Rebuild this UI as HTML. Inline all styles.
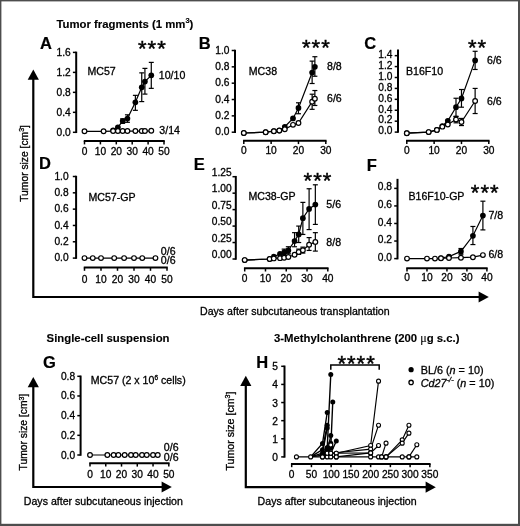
<!DOCTYPE html>
<html lang="en"><head><meta charset="utf-8"><title>Figure</title>
<style>html,body{margin:0;padding:0;background:#fff}svg{display:block}text{font-family:"Liberation Sans",Arial,Helvetica,sans-serif;font-size:10.6px;fill:#000;stroke:#000;stroke-width:0.3px}</style></head><body>
<svg width="520" height="526" viewBox="0 0 520 526" stroke="#000" fill="none">
<rect x="0" y="0" width="520" height="526" fill="#fff" stroke="none"/>
<rect x="0" y="0" width="1.4" height="526" fill="#4d4d4d" stroke="none"/>
<rect x="0" y="0" width="520" height="1.4" fill="#4d4d4d" stroke="none"/>
<rect x="518" y="0" width="2" height="526" fill="#4d4d4d" stroke="none"/>
<rect x="0" y="523.8" width="520" height="2.2" fill="#4d4d4d" stroke="none"/>
<text x="56.4" y="27.5" font-weight="bold" style="font-size:11.35px;stroke-width:0.12px">Tumor fragments (1 mm<tspan style="font-size:7.5px" dy="-4.2">3</tspan><tspan dy="4.2">)</tspan></text>
<text x="46.6" y="341.8" font-weight="bold" style="font-size:11.35px;stroke-width:0.12px">Single-cell suspension</text>
<text x="274" y="341.5" font-weight="bold" style="font-size:11.35px;stroke-width:0.12px">3-Methylcholanthrene (200 <tspan font-family="'Liberation Serif',serif" font-weight="normal" style="font-size:12px">μ</tspan>g s.c.)</text>
<path d="M33.3 78.7 V297 H479.6" fill="none" stroke-width="2.2" stroke-linejoin="miter"/>
<path d="M33.3 69.5 L27.7 79.7 L38.9 79.7 Z" fill="#000" stroke="none"/>
<path d="M488.8 297 L478.6 291.4 L478.6 302.6 Z" fill="#000" stroke="none"/>
<path d="M33.3 386.2 V487 H162.6" fill="none" stroke-width="2.2" stroke-linejoin="miter"/>
<path d="M33.3 377 L27.7 387.2 L38.9 387.2 Z" fill="#000" stroke="none"/>
<path d="M171.8 487 L161.6 481.4 L161.6 492.6 Z" fill="#000" stroke="none"/>
<path d="M245.8 385 V487.2 H426.6" fill="none" stroke-width="2.2" stroke-linejoin="miter"/>
<path d="M245.8 375.8 L240.2 386 L251.4 386 Z" fill="#000" stroke="none"/>
<path d="M435.8 487.2 L425.6 481.6 L425.6 492.8 Z" fill="#000" stroke="none"/>
<text transform="translate(27.5 201.8) rotate(-90)" style="font-size:10.3px">Tumor size [cm<tspan style="font-size:7px" dy="-3.8">3</tspan><tspan dy="3.8">]</tspan></text>
<text transform="translate(27.3 470.5) rotate(-90)" style="font-size:10.3px">Tumor size [cm<tspan style="font-size:7px" dy="-3.8">3</tspan><tspan dy="3.8">]</tspan></text>
<text transform="translate(233.8 470.5) rotate(-90)" style="font-size:10.6px">Tumor size [cm<tspan style="font-size:7px" dy="-3.8">3</tspan><tspan dy="3.8">]</tspan></text>
<text x="200" y="315">Days after subcutaneous transplantation</text>
<text x="23.8" y="505.3">Days after subcutaneous injection</text>
<text x="257.6" y="505.2">Days after subcutaneous injection</text>
<text x="40" y="49.4" font-weight="bold" style="font-size:16.5px;stroke-width:0.2px">A</text>
<text x="198.7" y="49" font-weight="bold" style="font-size:16.5px;stroke-width:0.2px">B</text>
<text x="364.2" y="49.3" font-weight="bold" style="font-size:16.5px;stroke-width:0.2px">C</text>
<text x="39" y="169.1" font-weight="bold" style="font-size:16.5px;stroke-width:0.2px">D</text>
<text x="193.8" y="170.2" font-weight="bold" style="font-size:16.5px;stroke-width:0.2px">E</text>
<text x="366.8" y="170.7" font-weight="bold" style="font-size:16.5px;stroke-width:0.2px">F</text>
<text x="43" y="367.5" font-weight="bold" style="font-size:16.5px;stroke-width:0.2px">G</text>
<text x="256.2" y="367.5" font-weight="bold" style="font-size:16.5px;stroke-width:0.2px">H</text>
<line x1="76.2" y1="51.65" x2="76.2" y2="133.05" stroke-width="2"/>
<line x1="72.9" y1="132.3" x2="76.2" y2="132.3" stroke-width="1.5"/>
<line x1="72.9" y1="112.33" x2="76.2" y2="112.33" stroke-width="1.5"/>
<line x1="72.9" y1="92.35" x2="76.2" y2="92.35" stroke-width="1.5"/>
<line x1="72.9" y1="72.38" x2="76.2" y2="72.38" stroke-width="1.5"/>
<line x1="72.9" y1="52.4" x2="76.2" y2="52.4" stroke-width="1.5"/>
<text x="70.7" y="135.8" text-anchor="end" style="font-size:10.2px">0.0</text>
<text x="70.7" y="115.83" text-anchor="end" style="font-size:10.2px">0.4</text>
<text x="70.7" y="95.85" text-anchor="end" style="font-size:10.2px">0.8</text>
<text x="70.7" y="75.88" text-anchor="end" style="font-size:10.2px">1.2</text>
<text x="70.7" y="55.9" text-anchor="end" style="font-size:10.2px">1.6</text>
<line x1="83.75" y1="141.1" x2="164.75" y2="141.1" stroke-width="2"/>
<line x1="84.5" y1="141.1" x2="84.5" y2="144.4" stroke-width="1.5"/>
<line x1="100.4" y1="141.1" x2="100.4" y2="144.4" stroke-width="1.5"/>
<line x1="116.3" y1="141.1" x2="116.3" y2="144.4" stroke-width="1.5"/>
<line x1="132.2" y1="141.1" x2="132.2" y2="144.4" stroke-width="1.5"/>
<line x1="148.1" y1="141.1" x2="148.1" y2="144.4" stroke-width="1.5"/>
<line x1="164" y1="141.1" x2="164" y2="144.4" stroke-width="1.5"/>
<text x="84.5" y="154.8" text-anchor="middle" style="font-size:10.2px">0</text>
<text x="100.4" y="154.8" text-anchor="middle" style="font-size:10.2px">10</text>
<text x="116.3" y="154.8" text-anchor="middle" style="font-size:10.2px">20</text>
<text x="132.2" y="154.8" text-anchor="middle" style="font-size:10.2px">30</text>
<text x="148.1" y="154.8" text-anchor="middle" style="font-size:10.2px">40</text>
<text x="164" y="154.8" text-anchor="middle" style="font-size:10.2px">50</text>
<line x1="122.66" y1="118.82" x2="122.66" y2="123.31" stroke-width="1.2"/>
<line x1="120.16" y1="118.82" x2="125.16" y2="118.82" stroke-width="1.2"/>
<line x1="120.16" y1="123.31" x2="125.16" y2="123.31" stroke-width="1.2"/>
<line x1="127.43" y1="114.82" x2="127.43" y2="122.31" stroke-width="1.2"/>
<line x1="124.93" y1="114.82" x2="129.93" y2="114.82" stroke-width="1.2"/>
<line x1="124.93" y1="122.31" x2="129.93" y2="122.31" stroke-width="1.2"/>
<line x1="135.38" y1="95.35" x2="135.38" y2="110.33" stroke-width="1.2"/>
<line x1="132.88" y1="95.35" x2="137.88" y2="95.35" stroke-width="1.2"/>
<line x1="132.88" y1="110.33" x2="137.88" y2="110.33" stroke-width="1.2"/>
<line x1="141.74" y1="72.87" x2="141.74" y2="101.59" stroke-width="1.2"/>
<line x1="139.24" y1="72.87" x2="144.24" y2="72.87" stroke-width="1.2"/>
<line x1="139.24" y1="101.59" x2="144.24" y2="101.59" stroke-width="1.2"/>
<line x1="144.92" y1="68.38" x2="144.92" y2="94.1" stroke-width="1.2"/>
<line x1="142.42" y1="68.38" x2="147.42" y2="68.38" stroke-width="1.2"/>
<line x1="142.42" y1="94.1" x2="147.42" y2="94.1" stroke-width="1.2"/>
<line x1="151.28" y1="62.39" x2="151.28" y2="88.36" stroke-width="1.2"/>
<line x1="148.78" y1="62.39" x2="153.78" y2="62.39" stroke-width="1.2"/>
<line x1="148.78" y1="88.36" x2="153.78" y2="88.36" stroke-width="1.2"/>
<polyline points="113.12,130.3 117.89,127.31 122.66,121.06 127.43,118.57 135.38,102.34 141.74,87.36 144.92,81.61 151.28,75.37" fill="none" stroke-width="1.2"/>
<circle cx="113.12" cy="130.3" r="2.85" fill="#000" stroke="none"/>
<circle cx="117.89" cy="127.31" r="2.85" fill="#000" stroke="none"/>
<circle cx="122.66" cy="121.06" r="2.85" fill="#000" stroke="none"/>
<circle cx="127.43" cy="118.57" r="2.85" fill="#000" stroke="none"/>
<circle cx="135.38" cy="102.34" r="2.85" fill="#000" stroke="none"/>
<circle cx="141.74" cy="87.36" r="2.85" fill="#000" stroke="none"/>
<circle cx="144.92" cy="81.61" r="2.85" fill="#000" stroke="none"/>
<circle cx="151.28" cy="75.37" r="2.85" fill="#000" stroke="none"/>
<polyline points="84.5,131.3 103.58,131.3 113.12,131.05 117.89,131.05 122.66,131.05 127.43,131.05 135.38,131.05 141.74,131.05 144.92,131.05 151.28,130.8" fill="none" stroke-width="1.2"/>
<circle cx="84.5" cy="131.3" r="2.35" fill="#fff" stroke-width="1.2"/>
<circle cx="103.58" cy="131.3" r="2.35" fill="#fff" stroke-width="1.2"/>
<circle cx="113.12" cy="131.05" r="2.35" fill="#fff" stroke-width="1.2"/>
<circle cx="117.89" cy="131.05" r="2.35" fill="#fff" stroke-width="1.2"/>
<circle cx="122.66" cy="131.05" r="2.35" fill="#fff" stroke-width="1.2"/>
<circle cx="127.43" cy="131.05" r="2.35" fill="#fff" stroke-width="1.2"/>
<circle cx="135.38" cy="131.05" r="2.35" fill="#fff" stroke-width="1.2"/>
<circle cx="141.74" cy="131.05" r="2.35" fill="#fff" stroke-width="1.2"/>
<circle cx="144.92" cy="131.05" r="2.35" fill="#fff" stroke-width="1.2"/>
<circle cx="151.28" cy="130.8" r="2.35" fill="#fff" stroke-width="1.2"/>
<text x="87.5" y="75">MC57</text>
<text x="158.8" y="78.8">10/10</text>
<text x="159.3" y="134.3">3/14</text>
<text x="138" y="55.5" style="font-size:22px;stroke-width:0.45px;letter-spacing:1.05px">***</text>
<line x1="235" y1="49.75" x2="235" y2="132.95" stroke-width="2"/>
<line x1="231.7" y1="132.2" x2="235" y2="132.2" stroke-width="1.5"/>
<line x1="231.7" y1="115.86" x2="235" y2="115.86" stroke-width="1.5"/>
<line x1="231.7" y1="99.52" x2="235" y2="99.52" stroke-width="1.5"/>
<line x1="231.7" y1="83.18" x2="235" y2="83.18" stroke-width="1.5"/>
<line x1="231.7" y1="66.84" x2="235" y2="66.84" stroke-width="1.5"/>
<line x1="231.7" y1="50.5" x2="235" y2="50.5" stroke-width="1.5"/>
<text x="229.5" y="135.4" text-anchor="end" style="font-size:10.2px">0.0</text>
<text x="229.5" y="119.06" text-anchor="end" style="font-size:10.2px">0.2</text>
<text x="229.5" y="102.72" text-anchor="end" style="font-size:10.2px">0.4</text>
<text x="229.5" y="86.38" text-anchor="end" style="font-size:10.2px">0.6</text>
<text x="229.5" y="70.04" text-anchor="end" style="font-size:10.2px">0.8</text>
<text x="229.5" y="53.7" text-anchor="end" style="font-size:10.2px">1.0</text>
<line x1="243.05" y1="140.8" x2="326.55" y2="140.8" stroke-width="2"/>
<line x1="243.8" y1="140.8" x2="243.8" y2="144.1" stroke-width="1.5"/>
<line x1="271.13" y1="140.8" x2="271.13" y2="144.1" stroke-width="1.5"/>
<line x1="298.47" y1="140.8" x2="298.47" y2="144.1" stroke-width="1.5"/>
<line x1="325.8" y1="140.8" x2="325.8" y2="144.1" stroke-width="1.5"/>
<text x="243.8" y="154.2" text-anchor="middle" style="font-size:10.2px">0</text>
<text x="271.13" y="154.2" text-anchor="middle" style="font-size:10.2px">10</text>
<text x="298.47" y="154.2" text-anchor="middle" style="font-size:10.2px">20</text>
<text x="325.8" y="154.2" text-anchor="middle" style="font-size:10.2px">30</text>
<line x1="298.47" y1="102.79" x2="298.47" y2="113.74" stroke-width="1.2"/>
<line x1="295.97" y1="102.79" x2="300.97" y2="102.79" stroke-width="1.2"/>
<line x1="295.97" y1="113.74" x2="300.97" y2="113.74" stroke-width="1.2"/>
<line x1="312.13" y1="61.12" x2="312.13" y2="83.51" stroke-width="1.2"/>
<line x1="309.63" y1="61.12" x2="314.63" y2="61.12" stroke-width="1.2"/>
<line x1="309.63" y1="83.51" x2="314.63" y2="83.51" stroke-width="1.2"/>
<line x1="314.87" y1="56.71" x2="314.87" y2="76.24" stroke-width="1.2"/>
<line x1="312.37" y1="56.71" x2="317.37" y2="56.71" stroke-width="1.2"/>
<line x1="312.37" y1="76.24" x2="317.37" y2="76.24" stroke-width="1.2"/>
<polyline points="243.8,133.02 265.67,132.2 273.87,131.22 279.33,130.57 284.8,126.73 293,118.47 298.47,107.94 312.13,72.56 314.87,66.84" fill="none" stroke-width="1.2"/>
<circle cx="243.8" cy="133.02" r="2.85" fill="#000" stroke="none"/>
<circle cx="265.67" cy="132.2" r="2.85" fill="#000" stroke="none"/>
<circle cx="273.87" cy="131.22" r="2.85" fill="#000" stroke="none"/>
<circle cx="279.33" cy="130.57" r="2.85" fill="#000" stroke="none"/>
<circle cx="284.8" cy="126.73" r="2.85" fill="#000" stroke="none"/>
<circle cx="293" cy="118.47" r="2.85" fill="#000" stroke="none"/>
<circle cx="298.47" cy="107.94" r="2.85" fill="#000" stroke="none"/>
<circle cx="312.13" cy="72.56" r="2.85" fill="#000" stroke="none"/>
<circle cx="314.87" cy="66.84" r="2.85" fill="#000" stroke="none"/>
<line x1="312.13" y1="94.21" x2="312.13" y2="109.32" stroke-width="1.2"/>
<line x1="309.63" y1="94.21" x2="314.63" y2="94.21" stroke-width="1.2"/>
<line x1="309.63" y1="109.32" x2="314.63" y2="109.32" stroke-width="1.2"/>
<line x1="314.87" y1="90.53" x2="314.87" y2="105.48" stroke-width="1.2"/>
<line x1="312.37" y1="90.53" x2="317.37" y2="90.53" stroke-width="1.2"/>
<line x1="312.37" y1="105.48" x2="317.37" y2="105.48" stroke-width="1.2"/>
<polyline points="243.8,133.02 265.67,132.2 273.87,131.22 279.33,130.57 284.8,129.18 293,124.85 298.47,122.97 312.13,101.73 314.87,98.7" fill="none" stroke-width="1.2"/>
<circle cx="243.8" cy="133.02" r="2.35" fill="#fff" stroke-width="1.2"/>
<circle cx="265.67" cy="132.2" r="2.35" fill="#fff" stroke-width="1.2"/>
<circle cx="273.87" cy="131.22" r="2.35" fill="#fff" stroke-width="1.2"/>
<circle cx="279.33" cy="130.57" r="2.35" fill="#fff" stroke-width="1.2"/>
<circle cx="284.8" cy="129.18" r="2.35" fill="#fff" stroke-width="1.2"/>
<circle cx="293" cy="124.85" r="2.35" fill="#fff" stroke-width="1.2"/>
<circle cx="298.47" cy="122.97" r="2.35" fill="#fff" stroke-width="1.2"/>
<circle cx="312.13" cy="101.73" r="2.35" fill="#fff" stroke-width="1.2"/>
<circle cx="314.87" cy="98.7" r="2.35" fill="#fff" stroke-width="1.2"/>
<text x="248.8" y="74.5">MC38</text>
<text x="327" y="70">8/8</text>
<text x="327" y="102">6/6</text>
<text x="302" y="55.4" style="font-size:22px;stroke-width:0.45px;letter-spacing:1.05px">***</text>
<line x1="398" y1="49.45" x2="398" y2="132.85" stroke-width="2"/>
<line x1="394.7" y1="132.1" x2="398" y2="132.1" stroke-width="1.5"/>
<line x1="394.7" y1="121.18" x2="398" y2="121.18" stroke-width="1.5"/>
<line x1="394.7" y1="110.26" x2="398" y2="110.26" stroke-width="1.5"/>
<line x1="394.7" y1="99.34" x2="398" y2="99.34" stroke-width="1.5"/>
<line x1="394.7" y1="88.42" x2="398" y2="88.42" stroke-width="1.5"/>
<line x1="394.7" y1="77.5" x2="398" y2="77.5" stroke-width="1.5"/>
<line x1="394.7" y1="66.58" x2="398" y2="66.58" stroke-width="1.5"/>
<line x1="394.7" y1="55.66" x2="398" y2="55.66" stroke-width="1.5"/>
<text x="392.5" y="134.4" text-anchor="end" style="font-size:10.2px">0.0</text>
<text x="392.5" y="123.48" text-anchor="end" style="font-size:10.2px">0.2</text>
<text x="392.5" y="112.56" text-anchor="end" style="font-size:10.2px">0.4</text>
<text x="392.5" y="101.64" text-anchor="end" style="font-size:10.2px">0.6</text>
<text x="392.5" y="90.72" text-anchor="end" style="font-size:10.2px">0.8</text>
<text x="392.5" y="79.8" text-anchor="end" style="font-size:10.2px">1.0</text>
<text x="392.5" y="68.88" text-anchor="end" style="font-size:10.2px">1.2</text>
<text x="392.5" y="57.96" text-anchor="end" style="font-size:10.2px">1.4</text>
<line x1="406.05" y1="140.8" x2="489.55" y2="140.8" stroke-width="2"/>
<line x1="406.8" y1="140.8" x2="406.8" y2="144.1" stroke-width="1.5"/>
<line x1="434.13" y1="140.8" x2="434.13" y2="144.1" stroke-width="1.5"/>
<line x1="461.47" y1="140.8" x2="461.47" y2="144.1" stroke-width="1.5"/>
<line x1="488.8" y1="140.8" x2="488.8" y2="144.1" stroke-width="1.5"/>
<text x="406.8" y="154.2" text-anchor="middle" style="font-size:10.2px">0</text>
<text x="434.13" y="154.2" text-anchor="middle" style="font-size:10.2px">10</text>
<text x="461.47" y="154.2" text-anchor="middle" style="font-size:10.2px">20</text>
<text x="488.8" y="154.2" text-anchor="middle" style="font-size:10.2px">30</text>
<line x1="456" y1="98.25" x2="456" y2="116.54" stroke-width="1.2"/>
<line x1="453.5" y1="98.25" x2="458.5" y2="98.25" stroke-width="1.2"/>
<line x1="453.5" y1="116.54" x2="458.5" y2="116.54" stroke-width="1.2"/>
<line x1="461.47" y1="89.51" x2="461.47" y2="107.2" stroke-width="1.2"/>
<line x1="458.97" y1="89.51" x2="463.97" y2="89.51" stroke-width="1.2"/>
<line x1="458.97" y1="107.2" x2="463.97" y2="107.2" stroke-width="1.2"/>
<line x1="475.13" y1="51.29" x2="475.13" y2="69.47" stroke-width="1.2"/>
<line x1="472.63" y1="51.29" x2="477.63" y2="51.29" stroke-width="1.2"/>
<line x1="472.63" y1="69.47" x2="477.63" y2="69.47" stroke-width="1.2"/>
<polyline points="406.8,133.19 428.67,132.1 436.87,129.92 442.33,126.09 447.8,120.8 456,107.2 461.47,98.41 475.13,60.41" fill="none" stroke-width="1.2"/>
<circle cx="406.8" cy="133.19" r="2.85" fill="#000" stroke="none"/>
<circle cx="428.67" cy="132.1" r="2.85" fill="#000" stroke="none"/>
<circle cx="436.87" cy="129.92" r="2.85" fill="#000" stroke="none"/>
<circle cx="442.33" cy="126.09" r="2.85" fill="#000" stroke="none"/>
<circle cx="447.8" cy="120.8" r="2.85" fill="#000" stroke="none"/>
<circle cx="456" cy="107.2" r="2.85" fill="#000" stroke="none"/>
<circle cx="461.47" cy="98.41" r="2.85" fill="#000" stroke="none"/>
<circle cx="475.13" cy="60.41" r="2.85" fill="#000" stroke="none"/>
<line x1="456" y1="116.27" x2="456" y2="122.82" stroke-width="1.2"/>
<line x1="453.5" y1="116.27" x2="458.5" y2="116.27" stroke-width="1.2"/>
<line x1="453.5" y1="122.82" x2="458.5" y2="122.82" stroke-width="1.2"/>
<line x1="461.47" y1="118.45" x2="461.47" y2="125.55" stroke-width="1.2"/>
<line x1="458.97" y1="118.45" x2="463.97" y2="118.45" stroke-width="1.2"/>
<line x1="458.97" y1="125.55" x2="463.97" y2="125.55" stroke-width="1.2"/>
<line x1="475.13" y1="88.42" x2="475.13" y2="113.54" stroke-width="1.2"/>
<line x1="472.63" y1="88.42" x2="477.63" y2="88.42" stroke-width="1.2"/>
<line x1="472.63" y1="113.54" x2="477.63" y2="113.54" stroke-width="1.2"/>
<polyline points="406.8,133.19 428.67,132.1 436.87,129.92 442.33,126.64 447.8,124.46 456,119.54 461.47,122.05 475.13,100.98" fill="none" stroke-width="1.2"/>
<circle cx="406.8" cy="133.19" r="2.35" fill="#fff" stroke-width="1.2"/>
<circle cx="428.67" cy="132.1" r="2.35" fill="#fff" stroke-width="1.2"/>
<circle cx="436.87" cy="129.92" r="2.35" fill="#fff" stroke-width="1.2"/>
<circle cx="442.33" cy="126.64" r="2.35" fill="#fff" stroke-width="1.2"/>
<circle cx="447.8" cy="124.46" r="2.35" fill="#fff" stroke-width="1.2"/>
<circle cx="456" cy="119.54" r="2.35" fill="#fff" stroke-width="1.2"/>
<circle cx="461.47" cy="122.05" r="2.35" fill="#fff" stroke-width="1.2"/>
<circle cx="475.13" cy="100.98" r="2.35" fill="#fff" stroke-width="1.2"/>
<text x="406" y="75">B16F10</text>
<text x="487" y="63.8">6/6</text>
<text x="487" y="104.5">6/6</text>
<text x="468" y="55.4" style="font-size:22px;stroke-width:0.45px;letter-spacing:1.05px">**</text>
<line x1="76.1" y1="175.75" x2="76.1" y2="258.85" stroke-width="2"/>
<line x1="72.8" y1="258.1" x2="76.1" y2="258.1" stroke-width="1.5"/>
<line x1="72.8" y1="241.78" x2="76.1" y2="241.78" stroke-width="1.5"/>
<line x1="72.8" y1="225.46" x2="76.1" y2="225.46" stroke-width="1.5"/>
<line x1="72.8" y1="209.14" x2="76.1" y2="209.14" stroke-width="1.5"/>
<line x1="72.8" y1="192.82" x2="76.1" y2="192.82" stroke-width="1.5"/>
<line x1="72.8" y1="176.5" x2="76.1" y2="176.5" stroke-width="1.5"/>
<text x="68.6" y="261.3" text-anchor="end" style="font-size:10.2px">0.0</text>
<text x="68.6" y="244.98" text-anchor="end" style="font-size:10.2px">0.2</text>
<text x="68.6" y="228.66" text-anchor="end" style="font-size:10.2px">0.4</text>
<text x="68.6" y="212.34" text-anchor="end" style="font-size:10.2px">0.6</text>
<text x="68.6" y="196.02" text-anchor="end" style="font-size:10.2px">0.8</text>
<text x="68.6" y="179.7" text-anchor="end" style="font-size:10.2px">1.0</text>
<line x1="83.75" y1="267.5" x2="167.75" y2="267.5" stroke-width="2"/>
<line x1="84.5" y1="267.5" x2="84.5" y2="270.8" stroke-width="1.5"/>
<line x1="101" y1="267.5" x2="101" y2="270.8" stroke-width="1.5"/>
<line x1="117.5" y1="267.5" x2="117.5" y2="270.8" stroke-width="1.5"/>
<line x1="134" y1="267.5" x2="134" y2="270.8" stroke-width="1.5"/>
<line x1="150.5" y1="267.5" x2="150.5" y2="270.8" stroke-width="1.5"/>
<line x1="167" y1="267.5" x2="167" y2="270.8" stroke-width="1.5"/>
<text x="84.5" y="282.5" text-anchor="middle" style="font-size:10.2px">0</text>
<text x="101" y="282.5" text-anchor="middle" style="font-size:10.2px">10</text>
<text x="117.5" y="282.5" text-anchor="middle" style="font-size:10.2px">20</text>
<text x="134" y="282.5" text-anchor="middle" style="font-size:10.2px">30</text>
<text x="150.5" y="282.5" text-anchor="middle" style="font-size:10.2px">40</text>
<text x="167" y="282.5" text-anchor="middle" style="font-size:10.2px">50</text>
<polyline points="84.5,258.1 92.75,258.1 101,258.1 114.2,258.1 124.1,258.1 134,258.1 142.25,258.1 155.45,258.1" fill="none" stroke-width="1.2"/>
<circle cx="84.5" cy="258.1" r="2.35" fill="#fff" stroke-width="1.2"/>
<circle cx="92.75" cy="258.1" r="2.35" fill="#fff" stroke-width="1.2"/>
<circle cx="101" cy="258.1" r="2.35" fill="#fff" stroke-width="1.2"/>
<circle cx="114.2" cy="258.1" r="2.35" fill="#fff" stroke-width="1.2"/>
<circle cx="124.1" cy="258.1" r="2.35" fill="#fff" stroke-width="1.2"/>
<circle cx="134" cy="258.1" r="2.35" fill="#fff" stroke-width="1.2"/>
<circle cx="142.25" cy="258.1" r="2.35" fill="#fff" stroke-width="1.2"/>
<circle cx="155.45" cy="258.1" r="2.35" fill="#fff" stroke-width="1.2"/>
<text x="88.5" y="200.6">MC57-GP</text>
<text x="160.8" y="254.5">0/6</text>
<text x="160.8" y="264">0/6</text>
<line x1="235.8" y1="175.95" x2="235.8" y2="259.75" stroke-width="2"/>
<line x1="232.5" y1="259" x2="235.8" y2="259" stroke-width="1.5"/>
<line x1="232.5" y1="242.54" x2="235.8" y2="242.54" stroke-width="1.5"/>
<line x1="232.5" y1="226.08" x2="235.8" y2="226.08" stroke-width="1.5"/>
<line x1="232.5" y1="209.62" x2="235.8" y2="209.62" stroke-width="1.5"/>
<line x1="232.5" y1="193.16" x2="235.8" y2="193.16" stroke-width="1.5"/>
<line x1="232.5" y1="176.7" x2="235.8" y2="176.7" stroke-width="1.5"/>
<text x="231.6" y="258.2" text-anchor="end" style="font-size:10.2px">0.00</text>
<text x="231.6" y="241.74" text-anchor="end" style="font-size:10.2px">0.25</text>
<text x="231.6" y="225.28" text-anchor="end" style="font-size:10.2px">0.50</text>
<text x="231.6" y="208.82" text-anchor="end" style="font-size:10.2px">0.75</text>
<text x="231.6" y="192.36" text-anchor="end" style="font-size:10.2px">1.00</text>
<text x="231.6" y="175.9" text-anchor="end" style="font-size:10.2px">1.25</text>
<line x1="243.95" y1="268.2" x2="328.55" y2="268.2" stroke-width="2"/>
<line x1="244.7" y1="268.2" x2="244.7" y2="271.5" stroke-width="1.5"/>
<line x1="265.48" y1="268.2" x2="265.48" y2="271.5" stroke-width="1.5"/>
<line x1="286.25" y1="268.2" x2="286.25" y2="271.5" stroke-width="1.5"/>
<line x1="307.03" y1="268.2" x2="307.03" y2="271.5" stroke-width="1.5"/>
<line x1="327.8" y1="268.2" x2="327.8" y2="271.5" stroke-width="1.5"/>
<text x="244.7" y="282.4" text-anchor="middle" style="font-size:10.2px">0</text>
<text x="265.48" y="282.4" text-anchor="middle" style="font-size:10.2px">10</text>
<text x="286.25" y="282.4" text-anchor="middle" style="font-size:10.2px">20</text>
<text x="307.03" y="282.4" text-anchor="middle" style="font-size:10.2px">30</text>
<text x="327.8" y="282.4" text-anchor="middle" style="font-size:10.2px">40</text>
<line x1="284.17" y1="249.12" x2="284.17" y2="255.71" stroke-width="1.2"/>
<line x1="281.67" y1="249.12" x2="286.67" y2="249.12" stroke-width="1.2"/>
<line x1="281.67" y1="255.71" x2="286.67" y2="255.71" stroke-width="1.2"/>
<line x1="288.33" y1="246.75" x2="288.33" y2="253.73" stroke-width="1.2"/>
<line x1="285.83" y1="246.75" x2="290.83" y2="246.75" stroke-width="1.2"/>
<line x1="285.83" y1="253.73" x2="290.83" y2="253.73" stroke-width="1.2"/>
<line x1="294.56" y1="232.66" x2="294.56" y2="246.75" stroke-width="1.2"/>
<line x1="292.06" y1="232.66" x2="297.06" y2="232.66" stroke-width="1.2"/>
<line x1="292.06" y1="246.75" x2="297.06" y2="246.75" stroke-width="1.2"/>
<line x1="298.71" y1="226.08" x2="298.71" y2="242.54" stroke-width="1.2"/>
<line x1="296.21" y1="226.08" x2="301.21" y2="226.08" stroke-width="1.2"/>
<line x1="296.21" y1="242.54" x2="301.21" y2="242.54" stroke-width="1.2"/>
<line x1="302.87" y1="202.38" x2="302.87" y2="234.44" stroke-width="1.2"/>
<line x1="300.37" y1="202.38" x2="305.37" y2="202.38" stroke-width="1.2"/>
<line x1="300.37" y1="234.44" x2="305.37" y2="234.44" stroke-width="1.2"/>
<line x1="309.1" y1="188.75" x2="309.1" y2="229.57" stroke-width="1.2"/>
<line x1="306.6" y1="188.75" x2="311.6" y2="188.75" stroke-width="1.2"/>
<line x1="306.6" y1="229.57" x2="311.6" y2="229.57" stroke-width="1.2"/>
<line x1="315.34" y1="184.8" x2="315.34" y2="224.43" stroke-width="1.2"/>
<line x1="312.84" y1="184.8" x2="317.84" y2="184.8" stroke-width="1.2"/>
<line x1="312.84" y1="224.43" x2="317.84" y2="224.43" stroke-width="1.2"/>
<polyline points="244.7,260.12 269.63,259 273.78,256.7 280.02,253.86 284.17,252.42 288.33,250.44 294.56,241.03 298.71,234.44 302.87,218.18 309.1,208.96 315.34,204.48" fill="none" stroke-width="1.2"/>
<circle cx="244.7" cy="260.12" r="2.85" fill="#000" stroke="none"/>
<circle cx="269.63" cy="259" r="2.85" fill="#000" stroke="none"/>
<circle cx="273.78" cy="256.7" r="2.85" fill="#000" stroke="none"/>
<circle cx="280.02" cy="253.86" r="2.85" fill="#000" stroke="none"/>
<circle cx="284.17" cy="252.42" r="2.85" fill="#000" stroke="none"/>
<circle cx="288.33" cy="250.44" r="2.85" fill="#000" stroke="none"/>
<circle cx="294.56" cy="241.03" r="2.85" fill="#000" stroke="none"/>
<circle cx="298.71" cy="234.44" r="2.85" fill="#000" stroke="none"/>
<circle cx="302.87" cy="218.18" r="2.85" fill="#000" stroke="none"/>
<circle cx="309.1" cy="208.96" r="2.85" fill="#000" stroke="none"/>
<circle cx="315.34" cy="204.48" r="2.85" fill="#000" stroke="none"/>
<line x1="298.71" y1="249.12" x2="298.71" y2="254.39" stroke-width="1.2"/>
<line x1="296.21" y1="249.12" x2="301.21" y2="249.12" stroke-width="1.2"/>
<line x1="296.21" y1="254.39" x2="301.21" y2="254.39" stroke-width="1.2"/>
<line x1="302.87" y1="247.15" x2="302.87" y2="253.07" stroke-width="1.2"/>
<line x1="300.37" y1="247.15" x2="305.37" y2="247.15" stroke-width="1.2"/>
<line x1="300.37" y1="253.07" x2="305.37" y2="253.07" stroke-width="1.2"/>
<line x1="309.1" y1="237.6" x2="309.1" y2="250.44" stroke-width="1.2"/>
<line x1="306.6" y1="237.6" x2="311.6" y2="237.6" stroke-width="1.2"/>
<line x1="306.6" y1="250.44" x2="311.6" y2="250.44" stroke-width="1.2"/>
<line x1="315.34" y1="232.66" x2="315.34" y2="251.1" stroke-width="1.2"/>
<line x1="312.84" y1="232.66" x2="317.84" y2="232.66" stroke-width="1.2"/>
<line x1="312.84" y1="251.1" x2="317.84" y2="251.1" stroke-width="1.2"/>
<polyline points="244.7,260.12 269.63,259 273.78,258.41 280.02,258.14 284.17,257.68 288.33,257.02 294.56,254.72 298.71,251.89 302.87,250.18 309.1,244.71 315.34,241.88" fill="none" stroke-width="1.2"/>
<circle cx="244.7" cy="260.12" r="2.35" fill="#fff" stroke-width="1.2"/>
<circle cx="269.63" cy="259" r="2.35" fill="#fff" stroke-width="1.2"/>
<circle cx="273.78" cy="258.41" r="2.35" fill="#fff" stroke-width="1.2"/>
<circle cx="280.02" cy="258.14" r="2.35" fill="#fff" stroke-width="1.2"/>
<circle cx="284.17" cy="257.68" r="2.35" fill="#fff" stroke-width="1.2"/>
<circle cx="288.33" cy="257.02" r="2.35" fill="#fff" stroke-width="1.2"/>
<circle cx="294.56" cy="254.72" r="2.35" fill="#fff" stroke-width="1.2"/>
<circle cx="298.71" cy="251.89" r="2.35" fill="#fff" stroke-width="1.2"/>
<circle cx="302.87" cy="250.18" r="2.35" fill="#fff" stroke-width="1.2"/>
<circle cx="309.1" cy="244.71" r="2.35" fill="#fff" stroke-width="1.2"/>
<circle cx="315.34" cy="241.88" r="2.35" fill="#fff" stroke-width="1.2"/>
<text x="248.5" y="200.4">MC38-GP</text>
<text x="326.3" y="207.6">5/6</text>
<text x="326.3" y="246">8/8</text>
<text x="303.6" y="187.5" style="font-size:22px;stroke-width:0.45px;letter-spacing:1.05px">***</text>
<line x1="397.5" y1="178.85" x2="397.5" y2="259.35" stroke-width="2"/>
<line x1="394.2" y1="258.6" x2="397.5" y2="258.6" stroke-width="1.5"/>
<line x1="394.2" y1="241.04" x2="397.5" y2="241.04" stroke-width="1.5"/>
<line x1="394.2" y1="223.49" x2="397.5" y2="223.49" stroke-width="1.5"/>
<line x1="394.2" y1="205.93" x2="397.5" y2="205.93" stroke-width="1.5"/>
<line x1="394.2" y1="188.38" x2="397.5" y2="188.38" stroke-width="1.5"/>
<text x="392" y="260.7" text-anchor="end" style="font-size:10.2px">0.0</text>
<text x="392" y="243.14" text-anchor="end" style="font-size:10.2px">0.2</text>
<text x="392" y="225.59" text-anchor="end" style="font-size:10.2px">0.4</text>
<text x="392" y="208.03" text-anchor="end" style="font-size:10.2px">0.6</text>
<text x="392" y="190.48" text-anchor="end" style="font-size:10.2px">0.8</text>
<line x1="406.25" y1="268.2" x2="487.65" y2="268.2" stroke-width="2"/>
<line x1="407" y1="268.2" x2="407" y2="271.5" stroke-width="1.5"/>
<line x1="426.98" y1="268.2" x2="426.98" y2="271.5" stroke-width="1.5"/>
<line x1="446.95" y1="268.2" x2="446.95" y2="271.5" stroke-width="1.5"/>
<line x1="466.92" y1="268.2" x2="466.92" y2="271.5" stroke-width="1.5"/>
<line x1="486.9" y1="268.2" x2="486.9" y2="271.5" stroke-width="1.5"/>
<text x="407" y="281.4" text-anchor="middle" style="font-size:10.2px">0</text>
<text x="426.98" y="281.4" text-anchor="middle" style="font-size:10.2px">10</text>
<text x="446.95" y="281.4" text-anchor="middle" style="font-size:10.2px">20</text>
<text x="466.92" y="281.4" text-anchor="middle" style="font-size:10.2px">30</text>
<text x="486.9" y="281.4" text-anchor="middle" style="font-size:10.2px">40</text>
<line x1="460.93" y1="248.51" x2="460.93" y2="254.21" stroke-width="1.2"/>
<line x1="458.43" y1="248.51" x2="463.43" y2="248.51" stroke-width="1.2"/>
<line x1="458.43" y1="254.21" x2="463.43" y2="254.21" stroke-width="1.2"/>
<line x1="472.92" y1="226.47" x2="472.92" y2="244.56" stroke-width="1.2"/>
<line x1="470.42" y1="226.47" x2="475.42" y2="226.47" stroke-width="1.2"/>
<line x1="470.42" y1="244.56" x2="475.42" y2="244.56" stroke-width="1.2"/>
<line x1="482.9" y1="201.19" x2="482.9" y2="229.9" stroke-width="1.2"/>
<line x1="480.4" y1="201.19" x2="485.4" y2="201.19" stroke-width="1.2"/>
<line x1="480.4" y1="229.9" x2="485.4" y2="229.9" stroke-width="1.2"/>
<polyline points="440.96,257.99 448.95,256.58 460.93,251.4 472.92,235.78 482.9,215.59" fill="none" stroke-width="1.2"/>
<circle cx="440.96" cy="257.99" r="2.85" fill="#000" stroke="none"/>
<circle cx="448.95" cy="256.58" r="2.85" fill="#000" stroke="none"/>
<circle cx="460.93" cy="251.4" r="2.85" fill="#000" stroke="none"/>
<circle cx="472.92" cy="235.78" r="2.85" fill="#000" stroke="none"/>
<circle cx="482.9" cy="215.59" r="2.85" fill="#000" stroke="none"/>
<polyline points="407,258.6 426.98,258.6 434.96,258.6 440.96,258.34 448.95,257.99 460.93,257.72 472.92,257.2 482.9,255.09" fill="none" stroke-width="1.2"/>
<circle cx="407" cy="258.6" r="2.35" fill="#fff" stroke-width="1.2"/>
<circle cx="426.98" cy="258.6" r="2.35" fill="#fff" stroke-width="1.2"/>
<circle cx="434.96" cy="258.6" r="2.35" fill="#fff" stroke-width="1.2"/>
<circle cx="440.96" cy="258.34" r="2.35" fill="#fff" stroke-width="1.2"/>
<circle cx="448.95" cy="257.99" r="2.35" fill="#fff" stroke-width="1.2"/>
<circle cx="460.93" cy="257.72" r="2.35" fill="#fff" stroke-width="1.2"/>
<circle cx="472.92" cy="257.2" r="2.35" fill="#fff" stroke-width="1.2"/>
<circle cx="482.9" cy="255.09" r="2.35" fill="#fff" stroke-width="1.2"/>
<text x="408.5" y="200.4">B16F10-GP</text>
<text x="488.4" y="218.5">7/8</text>
<text x="488.4" y="258">6/8</text>
<text x="470.8" y="199.8" style="font-size:22px;stroke-width:0.45px;letter-spacing:1.05px">***</text>
<line x1="80.6" y1="375.55" x2="80.6" y2="455.75" stroke-width="2"/>
<line x1="77.3" y1="455" x2="80.6" y2="455" stroke-width="1.5"/>
<line x1="77.3" y1="435.32" x2="80.6" y2="435.32" stroke-width="1.5"/>
<line x1="77.3" y1="415.65" x2="80.6" y2="415.65" stroke-width="1.5"/>
<line x1="77.3" y1="395.98" x2="80.6" y2="395.98" stroke-width="1.5"/>
<line x1="77.3" y1="376.3" x2="80.6" y2="376.3" stroke-width="1.5"/>
<text x="75.1" y="458.5" text-anchor="end" style="font-size:10.2px">0.0</text>
<text x="75.1" y="438.82" text-anchor="end" style="font-size:10.2px">0.2</text>
<text x="75.1" y="419.15" text-anchor="end" style="font-size:10.2px">0.4</text>
<text x="75.1" y="399.48" text-anchor="end" style="font-size:10.2px">0.6</text>
<text x="75.1" y="379.8" text-anchor="end" style="font-size:10.2px">0.8</text>
<line x1="89.25" y1="463.3" x2="169.55" y2="463.3" stroke-width="2"/>
<line x1="90" y1="463.3" x2="90" y2="466.6" stroke-width="1.5"/>
<line x1="105.76" y1="463.3" x2="105.76" y2="466.6" stroke-width="1.5"/>
<line x1="121.52" y1="463.3" x2="121.52" y2="466.6" stroke-width="1.5"/>
<line x1="137.28" y1="463.3" x2="137.28" y2="466.6" stroke-width="1.5"/>
<line x1="153.04" y1="463.3" x2="153.04" y2="466.6" stroke-width="1.5"/>
<line x1="168.8" y1="463.3" x2="168.8" y2="466.6" stroke-width="1.5"/>
<text x="90" y="477.8" text-anchor="middle" style="font-size:10.2px">0</text>
<text x="105.76" y="477.8" text-anchor="middle" style="font-size:10.2px">10</text>
<text x="121.52" y="477.8" text-anchor="middle" style="font-size:10.2px">20</text>
<text x="137.28" y="477.8" text-anchor="middle" style="font-size:10.2px">30</text>
<text x="153.04" y="477.8" text-anchor="middle" style="font-size:10.2px">40</text>
<text x="168.8" y="477.8" text-anchor="middle" style="font-size:10.2px">50</text>
<polyline points="90,455 107.34,455 113.64,455 118.37,455 124.67,455 130.98,455 135.7,455 142.01,455 146.74,455 153.04,455 157.77,455" fill="none" stroke-width="1.2"/>
<circle cx="90" cy="455" r="2.35" fill="#fff" stroke-width="1.2"/>
<circle cx="107.34" cy="455" r="2.35" fill="#fff" stroke-width="1.2"/>
<circle cx="113.64" cy="455" r="2.35" fill="#fff" stroke-width="1.2"/>
<circle cx="118.37" cy="455" r="2.35" fill="#fff" stroke-width="1.2"/>
<circle cx="124.67" cy="455" r="2.35" fill="#fff" stroke-width="1.2"/>
<circle cx="130.98" cy="455" r="2.35" fill="#fff" stroke-width="1.2"/>
<circle cx="135.7" cy="455" r="2.35" fill="#fff" stroke-width="1.2"/>
<circle cx="142.01" cy="455" r="2.35" fill="#fff" stroke-width="1.2"/>
<circle cx="146.74" cy="455" r="2.35" fill="#fff" stroke-width="1.2"/>
<circle cx="153.04" cy="455" r="2.35" fill="#fff" stroke-width="1.2"/>
<circle cx="157.77" cy="455" r="2.35" fill="#fff" stroke-width="1.2"/>
<text x="90.8" y="383.8">MC57 (2 x 10<tspan style="font-size:6.5px" dy="-4">6</tspan><tspan dy="4"> cells)</tspan></text>
<text x="163.8" y="450.8">0/6</text>
<text x="163.8" y="460.5">0/6</text>
<line x1="284.5" y1="365.55" x2="284.5" y2="457.65" stroke-width="2"/>
<line x1="281.2" y1="456.9" x2="284.5" y2="456.9" stroke-width="1.5"/>
<line x1="281.2" y1="438.78" x2="284.5" y2="438.78" stroke-width="1.5"/>
<line x1="281.2" y1="420.66" x2="284.5" y2="420.66" stroke-width="1.5"/>
<line x1="281.2" y1="402.54" x2="284.5" y2="402.54" stroke-width="1.5"/>
<line x1="281.2" y1="384.42" x2="284.5" y2="384.42" stroke-width="1.5"/>
<line x1="281.2" y1="366.3" x2="284.5" y2="366.3" stroke-width="1.5"/>
<text x="278" y="460.9" text-anchor="end" style="font-size:10.2px">0</text>
<text x="278" y="442.78" text-anchor="end" style="font-size:10.2px">1</text>
<text x="278" y="424.66" text-anchor="end" style="font-size:10.2px">2</text>
<text x="278" y="406.54" text-anchor="end" style="font-size:10.2px">3</text>
<text x="278" y="388.42" text-anchor="end" style="font-size:10.2px">4</text>
<text x="278" y="370.3" text-anchor="end" style="font-size:10.2px">5</text>
<line x1="290.95" y1="463.9" x2="430.6" y2="463.9" stroke-width="2"/>
<line x1="291.7" y1="463.9" x2="291.7" y2="467.2" stroke-width="1.5"/>
<line x1="311.44" y1="463.9" x2="311.44" y2="467.2" stroke-width="1.5"/>
<line x1="331.17" y1="463.9" x2="331.17" y2="467.2" stroke-width="1.5"/>
<line x1="350.91" y1="463.9" x2="350.91" y2="467.2" stroke-width="1.5"/>
<line x1="370.64" y1="463.9" x2="370.64" y2="467.2" stroke-width="1.5"/>
<line x1="390.38" y1="463.9" x2="390.38" y2="467.2" stroke-width="1.5"/>
<line x1="410.11" y1="463.9" x2="410.11" y2="467.2" stroke-width="1.5"/>
<line x1="429.85" y1="463.9" x2="429.85" y2="467.2" stroke-width="1.5"/>
<text x="291.7" y="477.8" text-anchor="middle" style="font-size:10.2px">0</text>
<text x="311.44" y="477.8" text-anchor="middle" style="font-size:10.2px">50</text>
<text x="331.17" y="477.8" text-anchor="middle" style="font-size:10.2px">100</text>
<text x="350.91" y="477.8" text-anchor="middle" style="font-size:10.2px">150</text>
<text x="370.64" y="477.8" text-anchor="middle" style="font-size:10.2px">200</text>
<text x="390.38" y="477.8" text-anchor="middle" style="font-size:10.2px">250</text>
<text x="410.11" y="477.8" text-anchor="middle" style="font-size:10.2px">300</text>
<text x="429.85" y="477.8" text-anchor="middle" style="font-size:10.2px">350</text>
<polyline points="310.65,456.9 322.49,443.49 327.22,412.51" fill="none" stroke-width="1.4"/>
<polyline points="310.65,456.9 322.49,449.65 327.22,425.19" fill="none" stroke-width="1.4"/>
<polyline points="310.65,456.9 322.49,453.28 327.22,427.91" fill="none" stroke-width="1.4"/>
<polyline points="322.49,456.9 327.22,447.84 330.78,374.45" fill="none" stroke-width="1.4"/>
<polyline points="322.49,456.9 327.22,452.37 330.78,435.52" fill="none" stroke-width="1.4"/>
<polyline points="327.22,456.9 330.78,447.84 332.75,402" fill="none" stroke-width="1.4"/>
<polyline points="327.22,456.9 330.78,453.28 336.3,440.95" fill="none" stroke-width="1.4"/>
<polyline points="322.49,456.9 327.22,454.73 330.78,447.84" fill="none" stroke-width="1.4"/>
<polyline points="310.65,456.9 322.49,455.09 327.22,447.84" fill="none" stroke-width="1.4"/>
<polyline points="322.49,456.9 327.22,451.46 330.78,443.31" fill="none" stroke-width="1.4"/>
<polyline points="296.44,456.9 310.65,456.9 322.49,456.9 327.22,456.9 330.78,456.9 336.3,456.9 370.64,456.9 378.54,456.9 381.69,456.9 386.04,456.9 402.22,456.9 408.93,456.9 416.82,456.9" fill="none" stroke-width="1.15"/>
<polyline points="322.49,456.9 327.22,453.28 330.78,444.94" fill="none" stroke-width="1.15"/>
<polyline points="330.78,453.28 336.3,453.28 370.64,445.48 378.54,381.16" fill="none" stroke-width="1.15"/>
<polyline points="330.78,453.28 370.64,449.11 378.54,425.19" fill="none" stroke-width="1.15"/>
<polyline points="336.3,453.28 370.64,452.91 378.54,445.48" fill="none" stroke-width="1.15"/>
<polyline points="336.3,456.9 370.64,452.91" fill="none" stroke-width="1.15"/>
<polyline points="381.69,456.9 386.04,443.13" fill="none" stroke-width="1.15"/>
<polyline points="386.04,456.9 402.22,439.87 408.93,425.19" fill="none" stroke-width="1.15"/>
<polyline points="386.04,456.9 402.22,443.13 408.93,433.16" fill="none" stroke-width="1.15"/>
<polyline points="408.93,456.9 416.82,444.76" fill="none" stroke-width="1.15"/>
<circle cx="322.49" cy="443.49" r="2.5" fill="#000" stroke="none"/>
<circle cx="327.22" cy="412.51" r="2.5" fill="#000" stroke="none"/>
<circle cx="322.49" cy="449.65" r="2.5" fill="#000" stroke="none"/>
<circle cx="327.22" cy="425.19" r="2.5" fill="#000" stroke="none"/>
<circle cx="322.49" cy="453.28" r="2.5" fill="#000" stroke="none"/>
<circle cx="327.22" cy="427.91" r="2.5" fill="#000" stroke="none"/>
<circle cx="327.22" cy="447.84" r="2.5" fill="#000" stroke="none"/>
<circle cx="330.78" cy="374.45" r="2.5" fill="#000" stroke="none"/>
<circle cx="327.22" cy="452.37" r="2.5" fill="#000" stroke="none"/>
<circle cx="330.78" cy="435.52" r="2.5" fill="#000" stroke="none"/>
<circle cx="330.78" cy="447.84" r="2.5" fill="#000" stroke="none"/>
<circle cx="332.75" cy="402" r="2.5" fill="#000" stroke="none"/>
<circle cx="330.78" cy="453.28" r="2.5" fill="#000" stroke="none"/>
<circle cx="336.3" cy="440.95" r="2.5" fill="#000" stroke="none"/>
<circle cx="327.22" cy="454.73" r="2.5" fill="#000" stroke="none"/>
<circle cx="330.78" cy="447.84" r="2.5" fill="#000" stroke="none"/>
<circle cx="322.49" cy="455.09" r="2.5" fill="#000" stroke="none"/>
<circle cx="327.22" cy="447.84" r="2.5" fill="#000" stroke="none"/>
<circle cx="327.22" cy="451.46" r="2.5" fill="#000" stroke="none"/>
<circle cx="330.78" cy="443.31" r="2.5" fill="#000" stroke="none"/>
<circle cx="296.44" cy="456.9" r="2" fill="#fff" stroke-width="1.1"/>
<circle cx="310.65" cy="456.9" r="2" fill="#fff" stroke-width="1.1"/>
<circle cx="322.49" cy="456.9" r="2" fill="#fff" stroke-width="1.1"/>
<circle cx="327.22" cy="456.9" r="2" fill="#fff" stroke-width="1.1"/>
<circle cx="330.78" cy="456.9" r="2" fill="#fff" stroke-width="1.1"/>
<circle cx="336.3" cy="456.9" r="2" fill="#fff" stroke-width="1.1"/>
<circle cx="370.64" cy="456.9" r="2" fill="#fff" stroke-width="1.1"/>
<circle cx="378.54" cy="456.9" r="2" fill="#fff" stroke-width="1.1"/>
<circle cx="381.69" cy="456.9" r="2" fill="#fff" stroke-width="1.1"/>
<circle cx="386.04" cy="456.9" r="2" fill="#fff" stroke-width="1.1"/>
<circle cx="402.22" cy="456.9" r="2" fill="#fff" stroke-width="1.1"/>
<circle cx="408.93" cy="456.9" r="2" fill="#fff" stroke-width="1.1"/>
<circle cx="416.82" cy="456.9" r="2" fill="#fff" stroke-width="1.1"/>
<circle cx="322.49" cy="456.9" r="2" fill="#fff" stroke-width="1.1"/>
<circle cx="327.22" cy="453.28" r="2" fill="#fff" stroke-width="1.1"/>
<circle cx="330.78" cy="444.94" r="2" fill="#fff" stroke-width="1.1"/>
<circle cx="330.78" cy="453.28" r="2" fill="#fff" stroke-width="1.1"/>
<circle cx="336.3" cy="453.28" r="2" fill="#fff" stroke-width="1.1"/>
<circle cx="370.64" cy="445.48" r="2" fill="#fff" stroke-width="1.1"/>
<circle cx="378.54" cy="381.16" r="2" fill="#fff" stroke-width="1.1"/>
<circle cx="330.78" cy="453.28" r="2" fill="#fff" stroke-width="1.1"/>
<circle cx="370.64" cy="449.11" r="2" fill="#fff" stroke-width="1.1"/>
<circle cx="378.54" cy="425.19" r="2" fill="#fff" stroke-width="1.1"/>
<circle cx="336.3" cy="453.28" r="2" fill="#fff" stroke-width="1.1"/>
<circle cx="370.64" cy="452.91" r="2" fill="#fff" stroke-width="1.1"/>
<circle cx="378.54" cy="445.48" r="2" fill="#fff" stroke-width="1.1"/>
<circle cx="336.3" cy="456.9" r="2" fill="#fff" stroke-width="1.1"/>
<circle cx="370.64" cy="452.91" r="2" fill="#fff" stroke-width="1.1"/>
<circle cx="381.69" cy="456.9" r="2" fill="#fff" stroke-width="1.1"/>
<circle cx="386.04" cy="443.13" r="2" fill="#fff" stroke-width="1.1"/>
<circle cx="386.04" cy="456.9" r="2" fill="#fff" stroke-width="1.1"/>
<circle cx="402.22" cy="439.87" r="2" fill="#fff" stroke-width="1.1"/>
<circle cx="408.93" cy="425.19" r="2" fill="#fff" stroke-width="1.1"/>
<circle cx="386.04" cy="456.9" r="2" fill="#fff" stroke-width="1.1"/>
<circle cx="402.22" cy="443.13" r="2" fill="#fff" stroke-width="1.1"/>
<circle cx="408.93" cy="433.16" r="2" fill="#fff" stroke-width="1.1"/>
<circle cx="408.93" cy="456.9" r="2" fill="#fff" stroke-width="1.1"/>
<circle cx="416.82" cy="444.76" r="2" fill="#fff" stroke-width="1.1"/>
<path d="M330.8 369.8 V365 H379.2 V369.8" fill="none" stroke-width="1.5"/>
<text x="337.4" y="370.8" style="font-size:22px;stroke-width:0.45px;letter-spacing:1.05px">****</text>
<circle cx="411.1" cy="369.7" r="2.6" fill="#000" stroke="none"/>
<circle cx="411.1" cy="382.4" r="2.15" fill="#fff" stroke-width="1.3"/>
<text x="420.8" y="373.5" style="font-size:10.8px">BL/6 (<tspan font-style="italic">n</tspan> = 10)</text>
<text x="420.8" y="386.5" style="font-size:10.8px"><tspan font-style="italic">Cd27</tspan><tspan font-style="italic" style="font-size:7.5px" dy="-4.2">-/-</tspan><tspan dy="4.2"> (</tspan><tspan font-style="italic">n</tspan> = 10)</text>
</svg></body></html>
